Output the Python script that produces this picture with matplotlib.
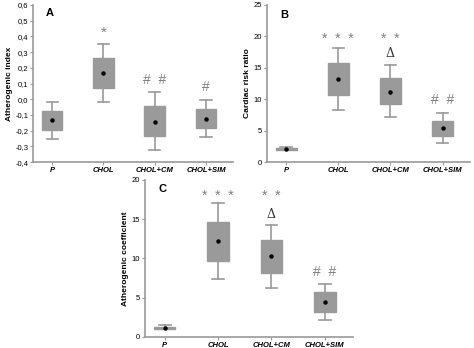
import matplotlib
matplotlib.use('Agg')
import matplotlib.pyplot as plt

plt.rcParams['font.family'] = ['Liberation Sans', 'DejaVu Sans']

groups = ['P', 'CHOL', 'CHOL+CM', 'CHOL+SIM']

# panel A - atherogenic index
a_wlo = [-0.25, -0.02, -0.325, -0.24]
a_q1 = [-0.195, 0.07, -0.235, -0.185]
a_mean = [-0.135, 0.165, -0.145, -0.125]
a_q3 = [-0.075, 0.26, -0.045, -0.065]
a_whi = [-0.02, 0.35, 0.045, -0.005]

# panel B - cardiac risk ratio
b_wlo = [1.9, 8.3, 7.2, 3.1]
b_q1 = [2.0, 10.7, 9.2, 4.2]
b_mean = [2.15, 13.2, 11.2, 5.4]
b_q3 = [2.3, 15.7, 13.4, 6.6]
b_whi = [2.45, 18.1, 15.4, 7.8]

# panel C - atherogenic coefficient
c_wlo = [0.95, 7.4, 6.2, 2.1]
c_q1 = [1.0, 9.7, 8.2, 3.2]
c_mean = [1.15, 12.2, 10.3, 4.45]
c_q3 = [1.3, 14.6, 12.4, 5.7]
c_whi = [1.45, 17.0, 14.3, 6.8]

gray = '#9a9a9a'
mark = '#808080'
fs = 5.5


def draw(ax, wlo, q1, mean, q3, whi):
    stats = []
    for i in range(len(groups)):
        stats.append({'whislo': wlo[i], 'q1': q1[i], 'med': mean[i],
                      'q3': q3[i], 'whishi': whi[i], 'fliers': []})
    ax.bxp(stats, positions=range(len(groups)), widths=0.4, patch_artist=True,
           showfliers=False,
           boxprops=dict(facecolor=gray, edgecolor=gray, linewidth=1),
           whiskerprops=dict(color=gray, linewidth=1.2),
           capprops=dict(color=gray, linewidth=1.2),
           medianprops=dict(linewidth=0),
           capwidths=0.22)
    ax.plot(range(len(groups)), mean, 'o', color='black', markersize=2.2)
    ax.spines['top'].set_visible(False)
    ax.spines['right'].set_visible(False)
    for s in ['left', 'bottom']:
        ax.spines[s].set_color(gray)
        ax.spines[s].set_linewidth(1.2)
    ax.set_xticks(range(len(groups)))
    ax.set_xticklabels(groups, fontsize=fs, fontstyle='italic', fontweight='bold')
    ax.tick_params(axis='both', color=gray, length=2.2, width=0.8, pad=1.2,
                   labelsize=fs)
    ax.set_xlim(-0.37, 3.53)


def note(ax, x, y, s, size=10, color=mark, family=None):
    kw = {} if family is None else {'family': family}
    ax.text(x, y, s, fontsize=size, color=color, ha='center', va='center', **kw)


fig = plt.figure(figsize=(4.74, 3.48), dpi=100, facecolor='white')

axA = fig.add_axes([0.070, 0.534, 0.422, 0.452])
draw(axA, a_wlo, a_q1, a_mean, a_q3, a_whi)
axA.set_ylim(-0.4, 0.6)
a_ticks = [-0.4, -0.3, -0.2, -0.1, 0.0, 0.1, 0.2, 0.3, 0.4, 0.5, 0.6]
axA.set_yticks(a_ticks)
axA.set_yticklabels([('%.1f' % t).replace('.', ',') for t in a_ticks])
axA.set_ylabel('Atherogenic index', fontsize=6, fontweight='bold', labelpad=2)
axA.text(-0.12, 0.55, 'A', fontsize=8, fontweight='bold', va='center')
note(axA, 1, 0.42, '*', size=11)
note(axA, 2, 0.125, '#  #', size=10)
note(axA, 3, 0.075, '#', size=10)

axB = fig.add_axes([0.563, 0.534, 0.429, 0.452])
draw(axB, b_wlo, b_q1, b_mean, b_q3, b_whi)
axB.set_ylim(0, 25)
axB.set_yticks([0, 5, 10, 15, 20, 25])
axB.set_ylabel('Cardiac risk ratio', fontsize=6, fontweight='bold', labelpad=2)
axB.text(-0.12, 23.4, 'B', fontsize=8, fontweight='bold', va='center')
note(axB, 1, 19.5, '*  *  *')
note(axB, 2, 19.5, '*  *')
note(axB, 2, 17.3, '\u0394', size=9, color='#333333', family='DejaVu Serif')
note(axB, 3, 9.9, '#  #')

axC = fig.add_axes([0.306, 0.032, 0.439, 0.451])
draw(axC, c_wlo, c_q1, c_mean, c_q3, c_whi)
axC.set_ylim(0, 20)
axC.set_yticks([0, 5, 10, 15, 20])
axC.set_ylabel('Atherogenic coefficient', fontsize=6, fontweight='bold', labelpad=2)
axC.text(-0.12, 18.9, 'C', fontsize=8, fontweight='bold', va='center')
note(axC, 1, 17.9, '*  *  *')
note(axC, 2, 17.9, '*  *')
note(axC, 2, 15.6, '\u0394', size=9, color='#333333', family='DejaVu Serif')
note(axC, 3, 8.3, '#  #')

fig.savefig('out.png', dpi=100, facecolor='white')
